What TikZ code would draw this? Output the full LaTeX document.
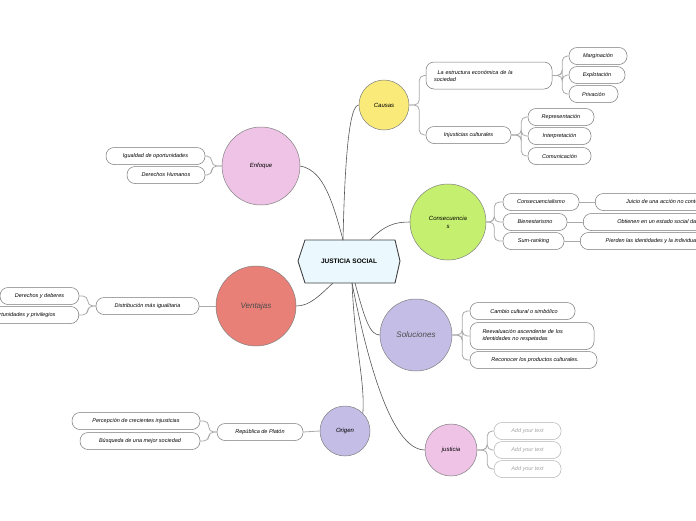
\documentclass[tikz,border=0pt]{standalone}
\usepackage{fontspec}
\setmainfont{Liberation Sans}
\usetikzlibrary{calc}
\definecolor{edge}{HTML}{555555}
\definecolor{br}{HTML}{AAAAAA}
\tikzset{
  pill/.style={draw=edge!80, line width=0.5pt, rounded corners=8pt, fill=white, minimum height=17pt, inner sep=2pt, font=\fontsize{5.5}{7}\selectfont\itshape, align=left},
  bub/.style={circle, draw=gray, line width=0.5pt, inner sep=0pt, font=\fontsize{6}{8}\selectfont\itshape, align=center},
  main/.style={line width=0.6pt, draw=edge},
  brl/.style={line width=0.8pt, draw=br, rounded corners=5pt},
  addt/.style={pill, text=gray!70, draw=gray!60}
}
\begin{document}
\begin{tikzpicture}[x=1pt,y=-1pt]
\useasboundingbox (0,0) rectangle (696,520);
\clip (0,0) rectangle (696,520);
% center
\draw[line width=0.9pt, draw=black!75, fill=cyan!8] (305,240) -- (395,240) -- (400,261) -- (395,283) -- (305,283) -- (298,261) -- cycle;
\node (C) at (349,261) {\fontsize{6.5}{8}\selectfont\bfseries JUSTICIA SOCIAL};
\coordinate (Ct) at (343,240); \coordinate (Ct2) at (370,240);
\coordinate (Cb) at (352,283);
% bubbles
\node[bub, fill={rgb,255:red,249;green,234;blue,122}, minimum size=50pt] (Cau) at (384,105) {Causas};
\node[bub, fill={rgb,255:red,238;green,195;blue,230}, minimum size=78pt] (Enf) at (261,166) {Enfoque};
\node[bub, fill={rgb,255:red,197;green,239;blue,111}, minimum size=76pt] (Con) at (448,222) {Consecuencia\\s};
\node[bub, fill={rgb,255:red,233;green,128;blue,120}, minimum size=80pt, font=\fontsize{8}{9}\selectfont\itshape, text=black!70] (Ven) at (256,306) {Ventajas};
\node[bub, fill={rgb,255:red,196;green,189;blue,230}, minimum size=72pt, font=\fontsize{8}{9}\selectfont\itshape, text=black!70] (Sol) at (416,335) {Soluciones};
\node[bub, fill={rgb,255:red,196;green,189;blue,230}, minimum size=50pt] (Ori) at (345,431) {Origen};
\node[bub, fill={rgb,255:red,238;green,195;blue,230}, minimum size=52pt] (Jus) at (451,450) {justicia};
% main connectors
\draw[main] (Ct) .. controls (345,150) and (350,105) .. (Cau.west);
\draw[main] (Ct) .. controls (330,190) and (320,170) .. (Enf.east);
\draw[main] (Ct2) .. controls (385,225) and (395,222) .. (Con.west);
\draw[main] (333,283) .. controls (320,295) and (310,306) .. (Ven.east);
\draw[main] (355,283) .. controls (365,320) and (370,335) .. (Sol.west);
\draw[main] (Cb) .. controls (355,350) and (365,380) .. (Ori.north east);
\draw[main] (Cb) .. controls (375,400) and (400,450) .. (Jus.west);
% Causas children
\node[pill, minimum width=126pt, minimum height=27pt, text width=110pt] (e1) at (489,75.5) {\ \ La estructura económica de la\\ sociedad};
\node[pill, minimum width=85pt] (e2) at (468.5,135) {Injusticias culturales};
\node[pill, minimum width=58pt, align=center] (m1) at (598,56) {Marginación};
\node[pill, minimum width=56pt, align=center] (m2) at (597,75) {Explotación};
\node[pill, minimum width=49pt, align=center] (m3) at (593.5,94) {Privación};
\node[pill, minimum width=66pt, align=center] (r1) at (561,117) {Representación};
\node[pill, minimum width=63pt, align=center] (r2) at (559.5,136) {Interpretación};
\node[pill, minimum width=63pt, align=center] (r3) at (559.5,156) {Comunicación};
\foreach \c in {e1,e2} \draw[brl] (Cau.east) -- ++(10,0) |- (\c.west);
\foreach \c in {m1,m2,m3} \draw[brl] (e1.east) -- ++(10,0) |- (\c.west);
\foreach \c in {r1,r2,r3} \draw[brl] (e2.east) -- ++(10,0) |- (\c.west);
% Consecuencias
\node[pill, minimum width=76pt, align=center] (k1) at (541,202) {Consecuencialismo};
\node[pill, minimum width=64pt, align=center] (k2) at (535,222) {Bienestarismo};
\node[pill, minimum width=61pt, align=center] (k3) at (533.5,241) {Sum-ranking};
\node[pill, minimum width=140pt, align=left, anchor=west] (j1) at (595,202) {\ \ \ \ Juicio de una acción no contempla};
\node[pill, minimum width=150pt, align=left, anchor=west] (j2) at (583,222) {\ \ Obtienen en un estado social dado};
\node[pill, minimum width=150pt, align=left, anchor=west] (j3) at (580,241) {\ \ Pierden las identidades y la individualidad};
\foreach \c in {k1,k2,k3} \draw[brl] (Con.east) -- ++(8,0) |- (\c.west);
\draw[brl] (k1.east) -- (j1.west); \draw[brl] (k2.east) -- (j2.west); \draw[brl] (k3.east) -- (j3.west);
% Soluciones
\node[pill, minimum width=105pt] (s1) at (522.5,311) {\ \ Cambio cultural o simbólico};
\node[pill, minimum width=124pt, minimum height=27pt, text width=110pt] (s2) at (532,336) {\ \ \ Reevaluación ascendente de los\\ \ \ \ identidades no respetadas};
\node[pill, minimum width=127pt] (s3) at (533.5,360) {\ \ Reconocer los productos culturales.};
\foreach \c in {s1,s2,s3} \draw[brl] (Sol.east) -- ++(10,0) |- (\c.west);
% justicia
\node[addt, minimum width=67pt, align=center] (a1) at (527.5,431) {Add your text};
\node[addt, minimum width=67pt, align=center] (a2) at (527.5,450) {Add your text};
\node[addt, minimum width=67pt, align=center] (a3) at (527.5,469) {Add your text};
\foreach \c in {a1,a2,a3} \draw[brl] (Jus.east) -- ++(10,0) |- (\c.west);
% Enfoque
\node[pill, minimum width=99pt, align=center] (f1) at (155.5,156) {Igualdad de oportunidades};
\node[pill, minimum width=78pt, align=center] (f2) at (166,175) {Derechos Humanos};
\foreach \c in {f1,f2} \draw[brl] (Enf.west) -- ++(-10,0) |- (\c.east);
% Ventajas
\node[pill, minimum width=103pt, align=center] (v1) at (147.5,306) {Distribución más igualitaria};
\node[pill, minimum width=79pt, align=center] (d1) at (39.5,296) {Derechos y deberes};
\node[pill, minimum width=110pt, align=left, anchor=east] (d2) at (79,315) {Oportunidades y privilegios\ \ };
\draw[brl] (Ven.west) -- (v1.east);
\foreach \c in {d1,d2} \draw[brl] (v1.west) -- ++(-8,0) |- (\c.east);
% Origen
\node[pill, minimum width=86pt, align=center] (o1) at (260,432) {República de Platón};
\node[pill, minimum width=128pt, align=center] (p1) at (136,421) {Percepción de crecientes injusticias};
\node[pill, minimum width=120pt, align=center] (p2) at (140,441) {Búsqueda de una mejor sociedad};
\draw[brl] (Ori.west) -- (o1.east);
\foreach \c in {p1,p2} \draw[brl] (o1.west) -- ++(-8,0) |- (\c.east);
\end{tikzpicture}
\end{document}
